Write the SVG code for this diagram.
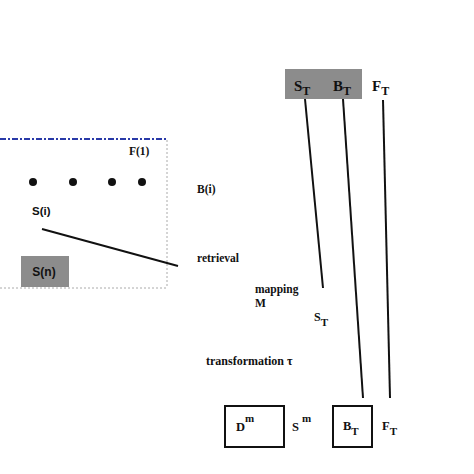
<svg xmlns="http://www.w3.org/2000/svg" width="474" height="474" viewBox="0 0 474 474">
<style>
.s{font-family:"Liberation Serif","Times New Roman",serif;font-weight:bold;fill:#111}
.a{font-family:"Liberation Sans",Arial,sans-serif;font-weight:bold;fill:#111}
.ln{stroke:#111;stroke-width:2;fill:none}
.box{fill:#fff;stroke:#111;stroke-width:2}
.gray{fill:#8c8c8c}
</style>
<rect width="474" height="474" fill="#fff"/>
<g id="frame">
<line x1="0" y1="139" x2="167" y2="139" stroke="#2a3aa8" stroke-width="2" stroke-dasharray="6,2,2,2"/>
<line x1="167" y1="140" x2="167" y2="288" stroke="#aaa" stroke-width="1" stroke-dasharray="2,2"/>
<line x1="0" y1="288" x2="167" y2="288" stroke="#aaa" stroke-width="1" stroke-dasharray="2,2"/>
<text class="s" x="129" y="155" font-size="11.5">F(1)</text>
</g>
<g id="dots">
<circle cx="33" cy="182" r="4" fill="#111"/>
<circle cx="73" cy="182" r="4" fill="#111"/>
<circle cx="112" cy="182" r="4" fill="#111"/>
<circle cx="142" cy="182" r="4" fill="#111"/>
</g>
<g id="Si"><text class="a" x="32" y="215" font-size="11.5">S(i)</text></g>
<g id="Sn">
<rect class="gray" x="21" y="256" width="48" height="31"/>
<text class="a" x="44" y="276" font-size="12" text-anchor="middle">S(n)</text>
</g>
<g id="labels">
<text class="s" x="197" y="193" font-size="11.5">B(i)</text>
<text class="s" x="197" y="262" font-size="11.5">retrieval</text>
<text class="s" x="255" y="293" font-size="11.5">mapping</text>
<text class="s" x="255" y="307" font-size="11.5">M</text>
<text class="s" x="206" y="365" font-size="12">transformation τ</text>
<text class="s" x="314" y="321" font-size="12">S<tspan font-size="11" dy="5">T</tspan></text>
</g>
<g id="top">
<rect class="gray" x="285" y="69" width="77" height="30"/>
<text class="s" x="294" y="91" font-size="15">S<tspan font-size="12" dy="4">T</tspan></text>
<text class="s" x="333" y="91" font-size="15">B<tspan font-size="12" dy="4">T</tspan></text>
<text class="s" x="372" y="91" font-size="15">F<tspan font-size="12" dy="4">T</tspan></text>
</g>
<g id="Dm">
<rect class="box" x="225" y="406" width="59" height="41"/>
<text class="s" x="236" y="431" font-size="12.5">D<tspan font-size="11" dy="-9">m</tspan></text>
</g>
<g id="Sm"><text class="s" x="292" y="431" font-size="12.5">S<tspan font-size="11" dx="3" dy="-9">m</tspan></text></g>
<g id="BT">
<rect class="box" x="333" y="406" width="39" height="41"/>
<text class="s" x="343" y="430" font-size="12.5">B<tspan font-size="11" dy="5">T</tspan></text>
</g>
<g id="FT"><text class="s" x="382" y="430" font-size="12.5">F<tspan font-size="11" dy="5">T</tspan></text></g>
<g id="connectors">
<line class="ln" x1="42" y1="229" x2="178" y2="266"/>
<line class="ln" x1="305" y1="99" x2="323" y2="288"/>
<line class="ln" x1="343" y1="99" x2="363" y2="398"/>
<line class="ln" x1="383" y1="100" x2="390" y2="398"/>
</g>
</svg>
